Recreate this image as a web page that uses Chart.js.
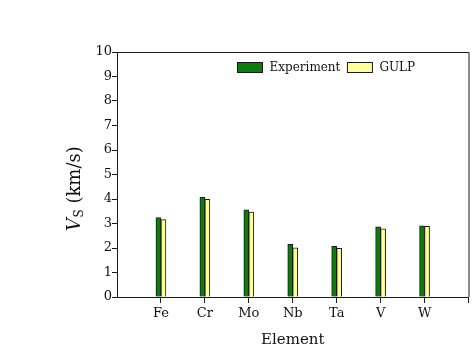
<!DOCTYPE html>
<html>
<head>
<meta charset="utf-8">
<script src="https://cdn.jsdelivr.net/npm/chart.js@4/dist/chart.umd.min.js"></script>
<style>
  html, body { margin: 0; padding: 0; background: #ffffff; }
  #c { display: block; }
</style>
</head>
<body>
<canvas id="c" width="474" height="353"></canvas>
<script>
// ---- data ----
const categories = ['Fe', 'Cr', 'Mo', 'Nb', 'Ta', 'V', 'W'];
const experimentValues = [3.24, 4.07, 3.56, 2.15, 2.07, 2.86, 2.90];
const gulpValues = [3.16, 3.99, 3.47, 2.01, 1.99, 2.78, 2.88];
const seriesNames = ['Experiment', 'GULP'];
const yMin = 0, yMax = 10, yStep = 1;
const xTitle = 'Element';

// pad categories with empty slots on both ends (axis spans 0..8)
const labels = [''].concat(categories, ['']);
const pad = arr => [null].concat(arr, [null]);

const SERIF = '"DejaVu Serif", serif';
const GREEN = '#0b7d0b';
const YELLOW = '#ffff99';
const EDGE = '#1a1a1a';

const framePlugin = {
  id: 'frame',
  afterDraw(chart) {
    const { ctx, chartArea: a } = chart;
    ctx.save();
    ctx.strokeStyle = EDGE;
    ctx.lineWidth = 1;
    ctx.beginPath();
    ctx.moveTo(a.left, a.top + 0.5);
    ctx.lineTo(a.right + 0.5, a.top + 0.5);
    ctx.lineTo(a.right + 0.5, a.bottom);
    ctx.stroke();

    // legend from datasets
    ctx.font = '12px ' + SERIF;
    ctx.textBaseline = 'middle';
    ctx.fillStyle = '#111';
    let x = 237.5;
    const yTop = 62.5, bh = 10, bw = 25;
    chart.data.datasets.forEach(ds => {
      ctx.fillStyle = ds.backgroundColor;
      ctx.fillRect(x, yTop, bw, bh);
      ctx.strokeStyle = EDGE;
      ctx.strokeRect(x, yTop, bw, bh);
      ctx.fillStyle = '#111';
      ctx.fillText(ds.label, x + bw + 7, yTop + bh / 2 + 0.5);
      x += bw + 7 + ctx.measureText(ds.label).width + 7;
    });

    // y-axis title: italic V with subscript S
    ctx.save();
    ctx.translate(80, 231);
    ctx.rotate(-Math.PI / 2);
    ctx.textBaseline = 'alphabetic';
    ctx.fillStyle = '#111';
    let tx = 0;
    ctx.font = 'italic 18px ' + SERIF;
    ctx.fillText('V', tx, 0);
    tx += ctx.measureText('V').width + 0.5;
    ctx.font = '12px ' + SERIF;
    ctx.fillText('S', tx, 3);
    tx += ctx.measureText('S').width;
    ctx.font = '18px ' + SERIF;
    ctx.fillText(' (km/s)', tx, 0);
    ctx.restore();
    ctx.restore();
  }
};

new Chart(document.getElementById('c'), {
  type: 'bar',
  data: {
    labels: labels,
    datasets: [
      { label: seriesNames[0], data: pad(experimentValues), backgroundColor: GREEN, borderColor: EDGE, borderWidth: 1, barThickness: 5 },
      { label: seriesNames[1], data: pad(gulpValues), backgroundColor: YELLOW, borderColor: EDGE, borderWidth: 1, barThickness: 5 }
    ]
  },
  options: {
    responsive: false,
    animation: false,
    devicePixelRatio: 1,
    layout: { padding: { left: 0, right: 5.5, top: 52, bottom: 0 } },
    plugins: { legend: { display: false }, tooltip: { enabled: false } },
    scales: {
      x: {
        offset: false,
        grid: {
          offset: false,
          display: true, drawOnChartArea: false, drawTicks: true, tickLength: 6,
          tickColor: c => (c.index === 0 ? 'rgba(0,0,0,0)' : EDGE)
        },
        border: { display: true, color: EDGE, width: 1 },
        ticks: { color: '#111', font: { family: SERIF, size: 13 }, padding: 3, maxRotation: 0, autoSkip: false },
        title: { display: true, text: xTitle, color: '#111', font: { family: SERIF, size: 15 }, padding: { top: 0, bottom: 4 } },
        afterFit: s => { s.height = 56; }
      },
      y: {
        min: yMin, max: yMax,
        grid: { display: true, drawOnChartArea: false, drawTicks: true, tickLength: 5, tickColor: EDGE },
        border: { display: true, color: EDGE, width: 1 },
        ticks: { stepSize: yStep, color: '#111', font: { family: SERIF, size: 13 }, padding: 0 },
        afterFit: s => { s.width = 117; }
      }
    }
  },
  plugins: [framePlugin]
});
</script>
</body>
</html>
